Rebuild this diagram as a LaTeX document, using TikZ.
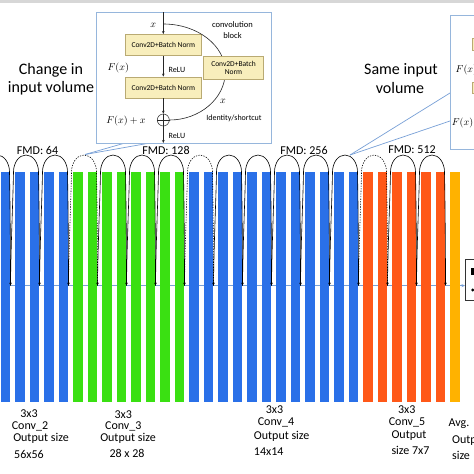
\documentclass[tikz,border=0pt]{standalone}
\usepackage{fontspec}
\setmainfont{Carlito}
\usetikzlibrary{arrows.meta}
\definecolor{barblue}{RGB}{42,112,232}
\definecolor{bargreen}{RGB}{58,224,18}
\definecolor{barorange}{RGB}{255,88,24}
\definecolor{baryellow}{RGB}{255,178,0}
\definecolor{linkblue}{RGB}{120,160,215}
\definecolor{frameblue}{RGB}{150,182,220}
\definecolor{tanfill}{RGB}{248,238,188}
\definecolor{tanedge}{RGB}{185,170,115}
\definecolor{topgray}{RGB}{215,215,215}
\begin{document}
\begin{tikzpicture}[x=1pt,y=-1pt,
  barnode/.style={draw=none,minimum width=9.5pt,minimum height=230pt,inner sep=0pt,outer sep=0pt},
  skiparc/.style={draw=black,line width=0.6pt,-{Stealth[length=3pt,width=2.6pt]}},
  projarc/.style={skiparc,dash pattern=on 1.3pt off 1.3pt},
  mainline/.style={draw=linkblue,line width=0.7pt,-{Stealth[length=3.5pt,width=3pt]}},
  calloutline/.style={draw=linkblue,line width=0.7pt},
  insetframe/.style={draw=frameblue,fill=white,line width=0.8pt,inner sep=0pt},
  tanbox/.style={draw=tanedge,fill=tanfill,line width=0.5pt,inner sep=0pt,align=center,font=\fontsize{7.5}{8.5}\selectfont},
  vline/.style={draw=black!85,line width=0.6pt},
  vlinearrow/.style={vline,-{Stealth[length=3pt,width=2.6pt]}},
  smalltxt/.style={inner sep=0pt,font=\fontsize{8}{9.5}\selectfont,align=center},
  mathlbl/.style={inner sep=0pt,font=\fontsize{10}{12}\selectfont},
  lbl/.style={inner sep=0pt,font=\fontsize{12}{14}\selectfont},
  bigtxt/.style={inner sep=0pt,font=\fontsize{16}{18}\selectfont}]
\useasboundingbox (0,0) rectangle (474,474);
\clip (0,0) rectangle (474,474);
\fill[white] (0,0) rectangle (474,474);
\fill[topgray] (0,0) rectangle (474,2.5);

% main horizontal line (behind bars)
\coordinate (hs) at (10.5,285.6);
\coordinate (he) at (465,285.6);
\draw[mainline] (hs) -- (he);

% bars
\foreach \i in {-1,...,31}{
  \pgfmathsetmacro\cx{5.25+14.5*\i}
  \ifnum\i<5 \def\bc{barblue}\else
  \ifnum\i<13 \def\bc{bargreen}\else
  \ifnum\i<25 \def\bc{barblue}\else
  \ifnum\i<31 \def\bc{barorange}\else \def\bc{baryellow}\fi\fi\fi\fi
  \node[barnode,fill=\bc] (b\i) at (\cx,287) {};
}

% skip connection points
\foreach \k in {-1,...,15}{
  \coordinate (p\k) at (10.5+29*\k,285.6);
}
% skip arcs
\foreach \k in {-1,...,14}{
  \pgfmathtruncatemacro\kn{\k+1}
  \pgfmathsetmacro\xa{10.5+29*\k}
  \ifnum\k=2 \def\st{projarc}\else
  \ifnum\k=6 \def\st{projarc}\else
  \ifnum\k=12 \def\st{projarc}\else \def\st{skiparc}\fi\fi\fi
  \draw[\st] (p\k) .. controls (\xa+0.5,240) and (\xa+2.5,200) .. (\xa+3,172)
    .. controls (\xa+3,162.6) and (\xa+8.6,155) .. (\xa+15.5,155)
    .. controls (\xa+22.4,155) and (\xa+28,162.6) .. (\xa+28,172)
    .. controls (\xa+28.5,200) and (\xa+29,240) .. (p\kn);
}

% callouts
\coordinate (lc0) at (85,154.5);
\coordinate (lc1) at (125,143);
\coordinate (lc2) at (150,143);
\draw[calloutline] (lc0) -- (lc1);
\draw[calloutline] (lc0) -- (lc2);
\coordinate (rc0) at (350,155);
\coordinate (rc1) at (450,93);
\coordinate (rc2) at (450,121);
\draw[calloutline] (rc0) -- (rc1);
\draw[calloutline] (rc0) -- (rc2);

% left inset
\node[insetframe,minimum width=175.5pt,minimum height=131.5pt,anchor=north west] (lbox) at (95.5,11.5) {};
\node[tanbox,minimum width=76pt,minimum height=21.4pt] (cb1) at (163.3,45) {Conv2D+Batch Norm};
\node[tanbox,minimum width=76pt,minimum height=21.4pt] (cb2) at (163.3,87.5) {Conv2D+Batch Norm};
\node[draw=black!75,line width=0.6pt,circle,minimum size=12pt,inner sep=0pt] (plus) at (163.3,120) {};
\draw[vline] (plus.north) -- (plus.south);
\draw[vline] (plus.west) -- (plus.east);
\coordinate (vt) at (163.3,12);
\coordinate (vb) at (163.3,143);
\coordinate (sc) at (163.3,24);
\draw[vlinearrow] (vt) -- (cb1.north);
\draw[vlinearrow] (cb1.south) -- (cb2.north);
\draw[vlinearrow] (cb2.south) -- (plus.north);
\draw[vlinearrow] (plus.south) -- (vb);
\draw[vline] (sc) .. controls (197.5,24) and (225.3,45.5) .. (225.3,72)
  .. controls (225.3,98.5) and (199.5,120) .. (plus.east);
\node[tanbox,minimum width=60.4pt,minimum height=23.3pt] (cb3) at (233.5,67.7) {Conv2D+Batch\\Norm};
\node[mathlbl] (lx1) at (153.3,25) {$x$};
\node[mathlbl] (lfx) at (118.3,67.7) {$F(x)$};
\node[smalltxt] (relu1) at (177,70) {ReLU};
\node[mathlbl] (lfxx) at (126,120.5) {$F(x)+x$};
\node[smalltxt] (relu2) at (177,136) {ReLU};
\node[smalltxt,font=\fontsize{8.5}{10.5}\selectfont] (convb) at (232.5,30) {convolution\\block};
\node[mathlbl] (lx2) at (223,101.7) {$x$};
\node[smalltxt] (idsc) at (234,118.3) {Identity/shortcut};

% right inset (cut by the edge)
\node[insetframe,minimum width=40pt,minimum height=134.3pt,anchor=north west] (rbox) at (450,15) {};
\node[tanbox,minimum width=30pt,minimum height=11.7pt,anchor=north west] (rb1) at (471.7,38.3) {};
\node[tanbox,minimum width=30pt,minimum height=11.7pt,anchor=north west] (rb2) at (471.7,81.7) {};
\node[mathlbl,anchor=west] (rf1) at (455.5,70) {$F(x)$};
\node[mathlbl,anchor=west] (rf2) at (451.7,123.3) {$F(x)+x$};

% right output box (cut by the edge)
\node[draw=black!80,line width=0.9pt,fill=white,minimum width=30pt,minimum height=40.7pt,anchor=north west,inner sep=0pt] (fcbox) at (465,259.3) {};
\fill[black] (471,267.5) rectangle (474.5,275);
\fill[black] (472.8,290) circle (1.6);

% FMD labels
\node[lbl] (fmd1) at (37.5,150.5) {FMD: 64};
\node[lbl] (fmd2) at (166,150) {FMD: 128};
\node[lbl] (fmd3) at (304,150) {FMD: 256};
\node[lbl] (fmd4) at (412,150) {FMD: 512};

% side captions
\node[bigtxt] (chg1) at (51,70) {Change in};
\node[bigtxt] (chg2) at (51,88) {input volume};
\node[bigtxt] (same1) at (401,70) {Same input};
\node[bigtxt] (same2) at (400,88) {volume};

% bottom captions
\node[lbl] (c2a) at (29,413.3) {3x3};
\node[lbl] (c2b) at (30,426) {Conv\_2};
\node[lbl] (c2c) at (41,438.3) {Output size};
\node[lbl] (c2d) at (29,454) {56x56};

\node[lbl] (c3a) at (123.3,414.3) {3x3};
\node[lbl] (c3b) at (123.3,426) {Conv\_3};
\node[lbl] (c3c) at (128,438.3) {Output size};
\node[lbl] (c3d) at (127,453.3) {28 x 28};

\node[lbl] (c4a) at (274.5,409.3) {3x3};
\node[lbl] (c4b) at (276,422) {Conv\_4};
\node[lbl] (c4c) at (281.7,436.7) {Output size};
\node[lbl] (c4d) at (268.7,451.7) {14x14};

\node[lbl] (c5a) at (406.7,409.3) {3x3};
\node[lbl] (c5b) at (407,422.6) {Conv\_5};
\node[lbl] (c5c) at (409,436) {Output};
\node[lbl] (c5d) at (410.5,450) {size 7x7};

\node[lbl] (avg1) at (459,424) {Avg.};
\node[lbl,anchor=west] (avg2) at (452,440.7) {Output};
\node[lbl] (avg3) at (461,455) {size};
\end{tikzpicture}
\end{document}
